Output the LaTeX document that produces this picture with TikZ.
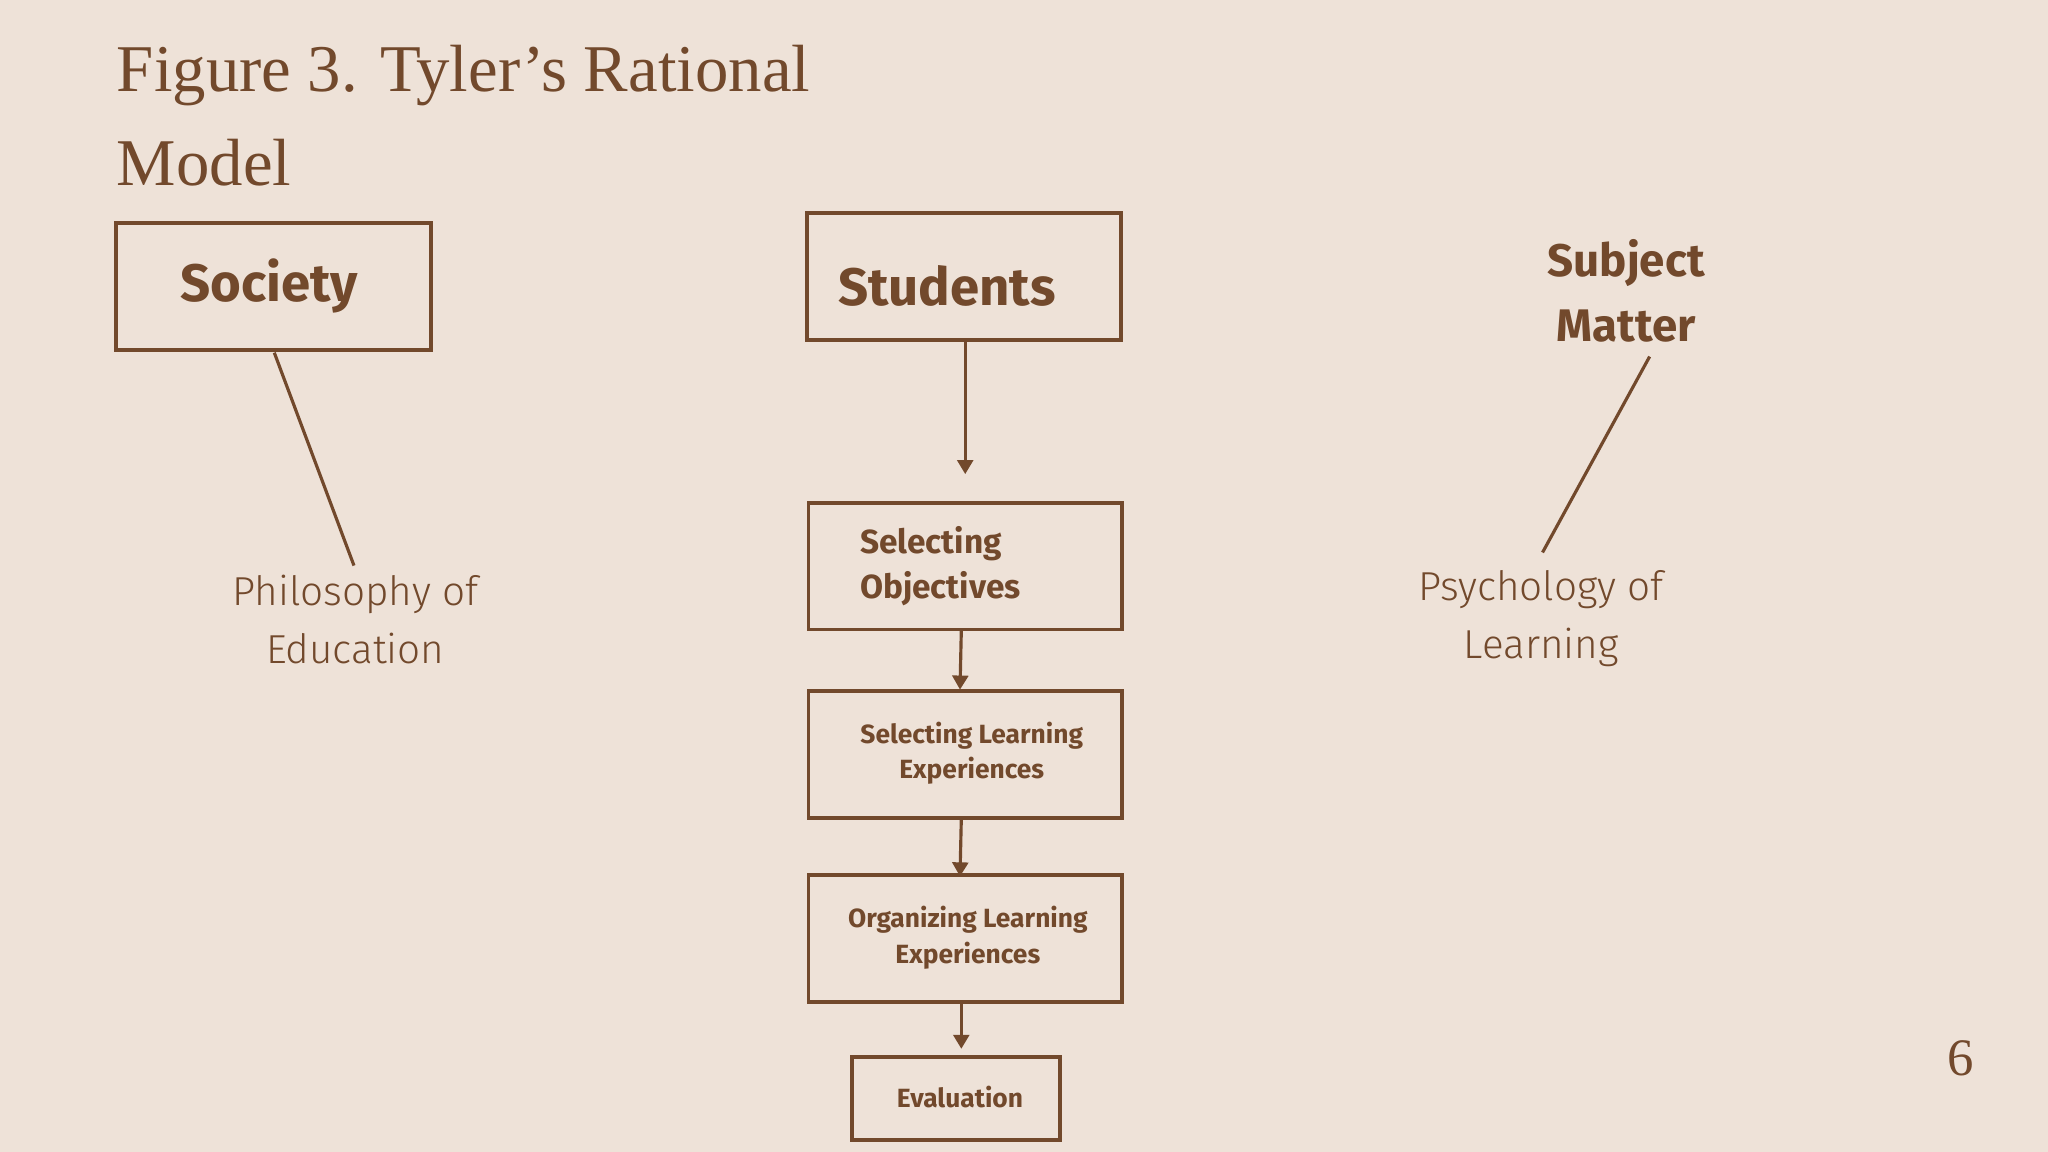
\documentclass[tikz,border=0pt]{standalone}
\usepackage{fontspec}
\setmainfont{Liberation Serif}
\newfontfamily\sansf{Fira Sans}
\newfontfamily\sansl{Fira Sans Light}
\usetikzlibrary{arrows.meta}
\definecolor{bg}{HTML}{EEE2D8}
\definecolor{br}{HTML}{72492C}
\begin{document}
\begin{tikzpicture}[x=0.013061cm,y=-0.013061cm,
  box/.style={draw=br,line width=1.1pt},
  con/.style={draw=br,line width=0.9pt},
  arr/.style={con,-{Triangle[length=4pt,width=4.5pt]}},
  every node/.style={text=br,inner sep=0pt}]
\fill[bg] (0,0) rectangle (1568,882);
\node[anchor=base west,font=\fontsize{19}{23}\selectfont] (t1) at (89,70) {Figure 3. Tyler's Rational};
\node[anchor=base west,font=\fontsize{19}{23}\selectfont] (t2) at (89,142) {Model};
\node[anchor=center,font=\fontsize{15}{18}\selectfont] (pg) at (1501,810) {6};
% boxes
\draw[box] (89,171) rectangle (330,268);
\node[font=\sansf\bfseries\fontsize{15}{18}\selectfont] (soc) at (206,219) {Society};
\coordinate (socb) at (210,270);
\draw[box] (618,163) rectangle (858,260);
\node[font=\sansf\bfseries\fontsize{15}{18}\selectfont] (stu) at (725,219) {Students};
\coordinate (stub) at (739,261);
\node[font=\sansf\bfseries\fontsize{13}{18.5}\selectfont,align=center] (sub) at (1245,223) {Subject\\Matter};
\coordinate (subb) at (1263,273);
\node[font=\sansl\fontsize{11.5}{16.5}\selectfont,align=center] (phil) at (272,474) {Philosophy of\\Education};
\coordinate (philt) at (271,433);
\node[font=\sansl\fontsize{11.5}{16.5}\selectfont,align=center] (psy) at (1180,474) {Psychology of\\Learning};
\coordinate (psyt) at (1181,423);
\draw[con] (socb) -- (philt);
\draw[con] (subb) -- (psyt);
% chain
\node[box,minimum width=240*0.013061cm,minimum height=97*0.013061cm] (so) at (739,433.5) {};
\node[font=\sansf\bfseries\fontsize{9.5}{13}\selectfont,align=left,anchor=west] at (658,433.5) {Selecting\\Objectives};
\node[box,minimum width=240*0.013061cm,minimum height=97*0.013061cm] (sl) at (739,577.5) {};
\node[font=\sansf\bfseries\fontsize{7.5}{10}\selectfont,align=center] at (744,576.5) {Selecting Learning\\Experiences};
\node[box,minimum width=240*0.013061cm,minimum height=97*0.013061cm] (ol) at (739,718.5) {};
\node[font=\sansf\bfseries\fontsize{7.5}{10}\selectfont,align=center] at (741,718) {Organizing Learning\\Experiences};
\node[box,minimum width=159*0.013061cm,minimum height=64*0.013061cm,font=\sansf\bfseries\fontsize{7.5}{10}\selectfont] (ev) at (732,841) {};
\node[font=\sansf\bfseries\fontsize{7.5}{10}\selectfont] at (735,840) {Evaluation};
\coordinate (soa) at (739,363);
\draw[arr] (stub) -- (soa);
\draw[arr] (736,483) -- (735,528);
\draw[arr] (736,627) -- (735,671);
\draw[arr] (736,768) -- (736,803);
\end{tikzpicture}
\end{document}
